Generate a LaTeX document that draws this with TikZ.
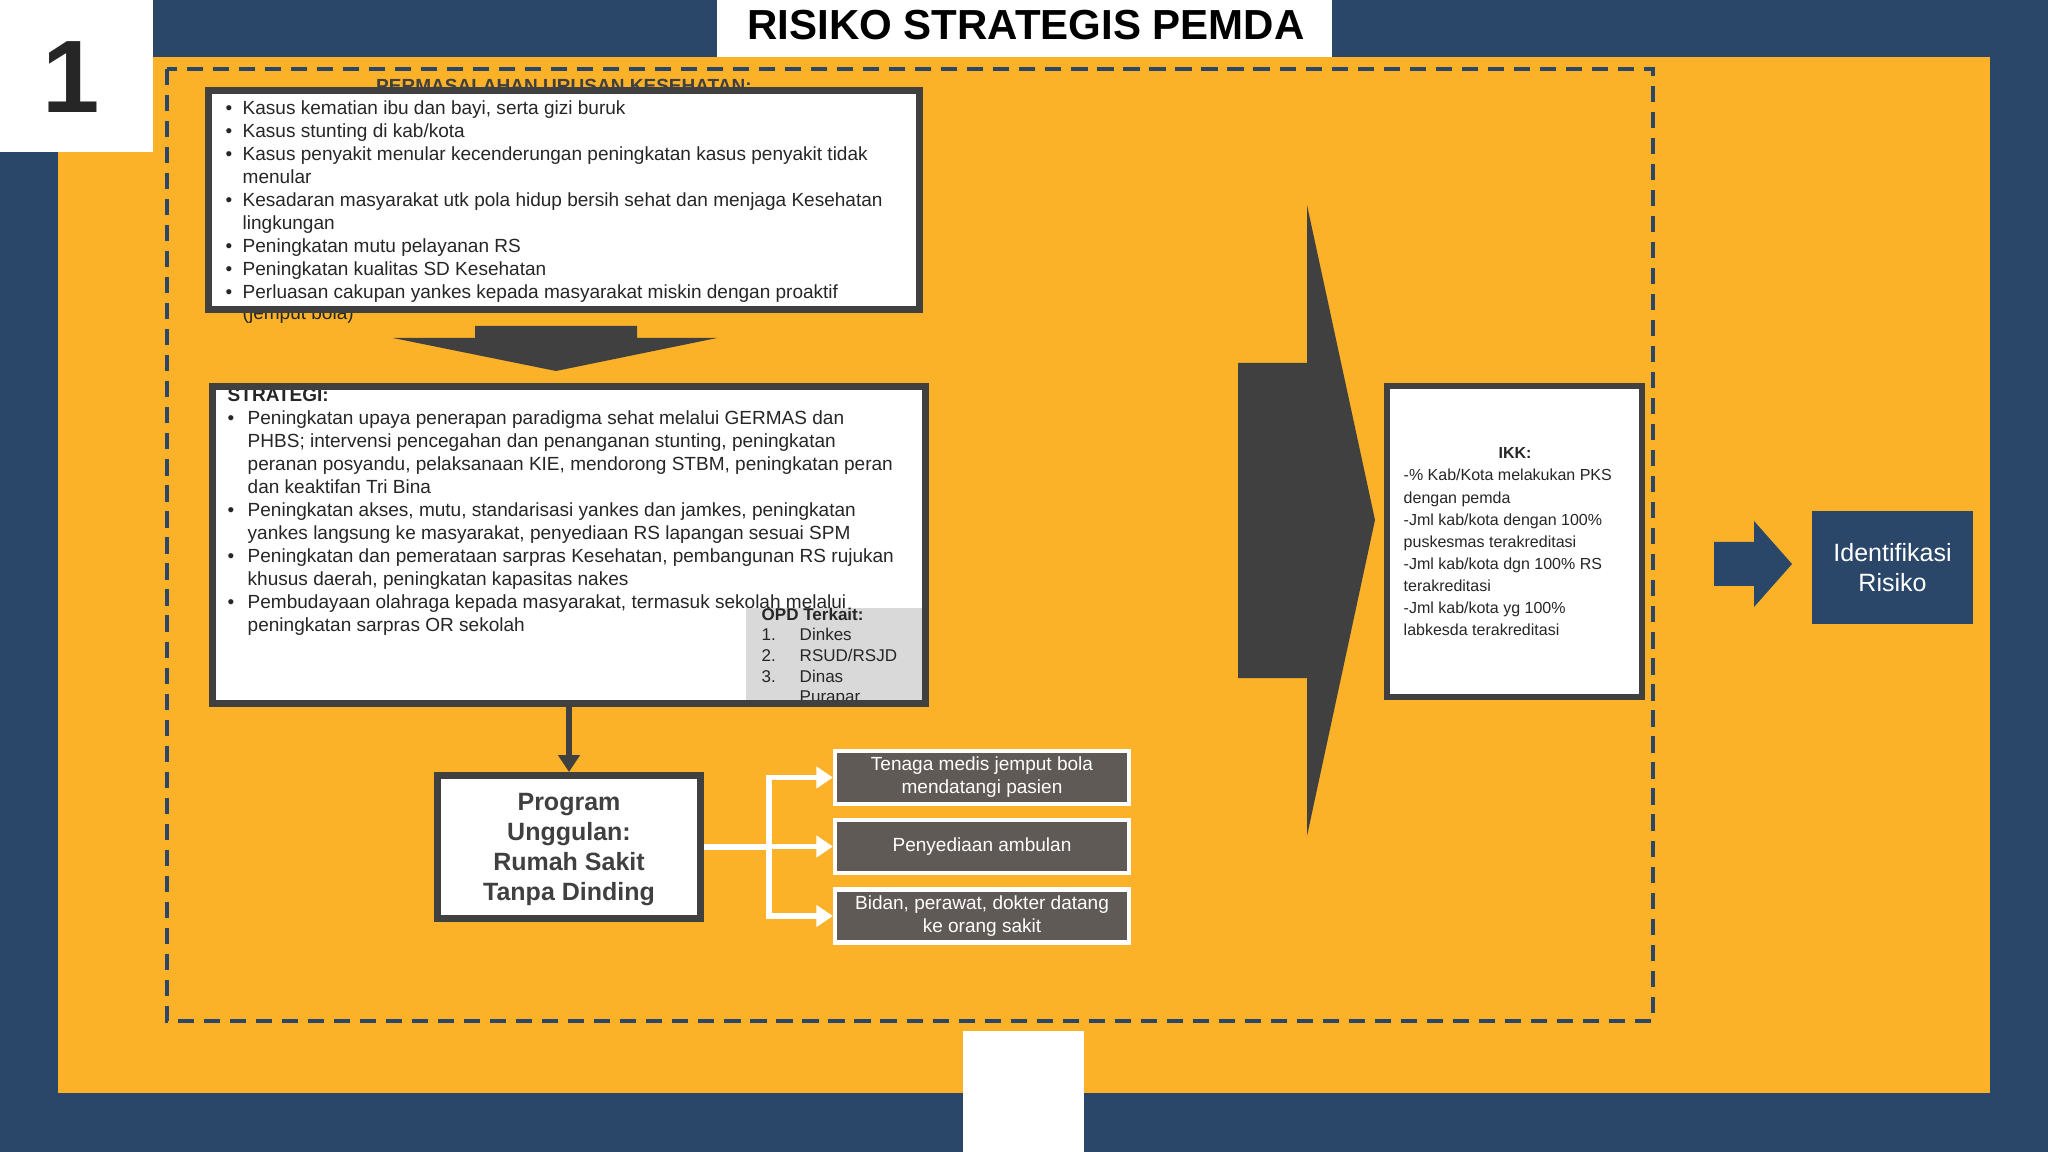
\documentclass[tikz,border=0pt]{standalone}
\usepackage{fontspec}
\setmainfont{Liberation Sans}
\usetikzlibrary{arrows.meta,fit}
\definecolor{navy}{RGB}{42,71,105}
\definecolor{gold}{RGB}{252,178,40}
\definecolor{charcoal}{RGB}{64,64,64}
\definecolor{taupe}{RGB}{96,90,86}
\definecolor{ink}{RGB}{38,38,38}
\definecolor{opdgray}{RGB}{217,217,217}
\begin{document}
\begin{tikzpicture}[x=0.01cm,y=-0.01cm,
  body/.style={font=\fontsize{5.41}{6.52}\selectfont,text=ink},
  bodybold/.style={font=\fontsize{5.41}{6.52}\selectfont\bfseries,text=charcoal},
  opdtxt/.style={font=\fontsize{4.84}{5.89}\selectfont,text=ink},
  ikktxt/.style={font=\fontsize{4.55}{6.26}\selectfont,text=ink},
  listbox/.style={fit={#1},inner sep=0pt,outer sep=0pt,draw=charcoal,line width=2pt,fill=white},
  action/.style={draw=white,line width=1.15pt,fill=taupe,text=white,inner sep=0pt,minimum width=2.94cm,minimum height=0.53cm,align=center,font=\fontsize{5.41}{6.52}\selectfont},
  wire/.style={white,line width=1.7pt},
  tip/.style={-{Triangle[length=4.7pt,width=6pt]}}]
\useasboundingbox (0,0) rectangle (2048,1152);
\fill[navy] (0,0) rectangle (2048,1152);
\fill[gold] (58,57) rectangle (1990,1093);
\fill[white] (0,0) rectangle (153,152);
\fill[white] (717,0) rectangle (1332,57);
\fill[white] (963,1031) rectangle (1084,1152);
\node[anchor=base,font=\fontsize{29.3}{30}\selectfont\bfseries,text=ink] (num) at (71,113) {1};
\node[anchor=base,font=\fontsize{11.95}{12}\selectfont\bfseries,text=black] (title) at (1026,40) {RISIKO STRATEGIS PEMDA};
\draw[navy,line width=1pt,dash pattern=on 4.6pt off 2.8pt] (167,69) rectangle (1653,1021);

\node[bodybold,anchor=base] (head) at (564,93) {PERMASALAHAN URUSAN KESEHATAN:};
\node[body,anchor=base west,inner sep=0pt] (jemput) at (242,320) {(jemput bola)};
\node[listbox={(208.5,90.5) (919.5,309.5)}] (masalah) {};
\node[body,anchor=base west,inner sep=0pt] (masalahtxt) at (225,115) {\begin{tabular}[t]{@{}p{0.17cm}@{}l@{}}
\textbullet & Kasus kematian ibu dan bayi, serta gizi buruk\\
\textbullet & Kasus stunting di kab/kota\\
\textbullet & Kasus penyakit menular kecenderungan peningkatan kasus penyakit tidak\\
 & menular\\
\textbullet & Kesadaran masyarakat utk pola hidup bersih sehat dan menjaga Kesehatan\\
 & lingkungan\\
\textbullet & Peningkatan mutu pelayanan RS\\
\textbullet & Peningkatan kualitas SD Kesehatan\\
\textbullet & Perluasan cakupan yankes kepada masyarakat miskin dengan proaktif
\end{tabular}};
\fill[charcoal] (475,326) -- (637,326) -- (637,338) -- (717,338) -- (556,371) -- (393,338) -- (475,338) -- cycle;

\node[listbox={(212.5,386.5) (925.5,703.5)}] (strat) {};
\node[body,anchor=base west,inner sep=0pt] (strattxt) at (227,402) {\begin{tabular}[t]{@{}p{0.2cm}@{}l@{}}
\multicolumn{2}{@{}l@{}}{\bfseries STRATEGI:}\\
\textbullet & Peningkatan upaya penerapan paradigma sehat melalui GERMAS dan\\
 & PHBS; intervensi pencegahan dan penanganan stunting, peningkatan\\
 & peranan posyandu, pelaksanaan KIE, mendorong STBM, peningkatan peran\\
 & dan keaktifan Tri Bina\\
\textbullet & Peningkatan akses, mutu, standarisasi yankes dan jamkes, peningkatan\\
 & yankes langsung ke masyarakat, penyediaan RS lapangan sesuai SPM\\
\textbullet & Peningkatan dan pemerataan sarpras Kesehatan, pembangunan RS rujukan\\
 & khusus daerah, peningkatan kapasitas nakes\\
\textbullet & Pembudayaan olahraga kepada masyarakat, termasuk sekolah melalui\\
 & peningkatan sarpras OR sekolah
\end{tabular}};
\fill[opdgray] (746,608) rectangle (922,701);
\node[opdtxt,anchor=base west,inner sep=0pt] (opd) at (761,620) {\begin{tabular}[t]{@{}p{0.38cm}@{}l@{}}
\multicolumn{2}{@{}l@{}}{\bfseries OPD Terkait:}\\
1. & Dinkes\\
2. & RSUD/RSJD\\
3. & Dinas\\
 & Purapar
\end{tabular}};
\draw[charcoal,line width=2pt] (strat.north west) rectangle (strat.south east);

\node[draw=charcoal,line width=2pt,fill=white,minimum width=2.62cm,minimum height=1.43cm] (prog) at (569,847) {};
\node[anchor=base,inner sep=0pt,font=\fontsize{7.11}{8.6}\selectfont\bfseries,text=charcoal] (progtxt) at (569,810) {\begin{tabular}[t]{@{}c@{}}
Program\\Unggulan:\\Rumah Sakit\\Tanpa Dinding
\end{tabular}};
\draw[charcoal,line width=1.7pt,-{Triangle[length=4.8pt,width=6pt]}] (strat.south) -- (prog.north);

\node[action] (b1) at (982,777.5) {Tenaga medis jemput bola\\mendatangi pasien};
\node[action] (b2) at (982,846.5) {Penyediaan ambulan};
\node[action] (b3) at (982,916) {Bidan, perawat, dokter datang\\ke orang sakit};
\coordinate (fork) at (769,847);
\draw[wire] (prog.east) -- (fork);
\foreach \b in {b1,b2,b3}
{ \draw[wire,tip] (fork) |- (\b.west);
}

\fill[charcoal] (1238,363) -- (1307,363) -- (1307,205) -- (1375,520) -- (1307,836) -- (1307,678) -- (1238,678) -- cycle;
\node[listbox={(1387,386) (1642,697)},line width=1.7pt] (ikk) {};
\node[ikktxt,font=\fontsize{4.55}{6.26}\selectfont\bfseries,anchor=base] (ikkhead) at (1515,459) {IKK:};
\node[ikktxt,anchor=base west,inner sep=0pt] (ikklist) at (1403,481) {\begin{tabular}[t]{@{}l@{}}
-\% Kab/Kota melakukan PKS\\
dengan pemda\\
-Jml kab/kota dengan 100\%\\
puskesmas terakreditasi\\
-Jml kab/kota dgn 100\% RS\\
terakreditasi\\
-Jml kab/kota yg 100\%\\
labkesda terakreditasi
\end{tabular}};

\fill[navy] (1714,542) -- (1754,542) -- (1754,521) -- (1792,564) -- (1754,607) -- (1754,586) -- (1714,586) -- cycle;
\node[fill=navy,minimum width=1.61cm,minimum height=1.13cm,text=white,align=center,font=\fontsize{7.11}{8.54}\selectfont] (ident) at (1892.5,567.5) {Identifikasi\\Risiko};
\end{tikzpicture}
\end{document}
